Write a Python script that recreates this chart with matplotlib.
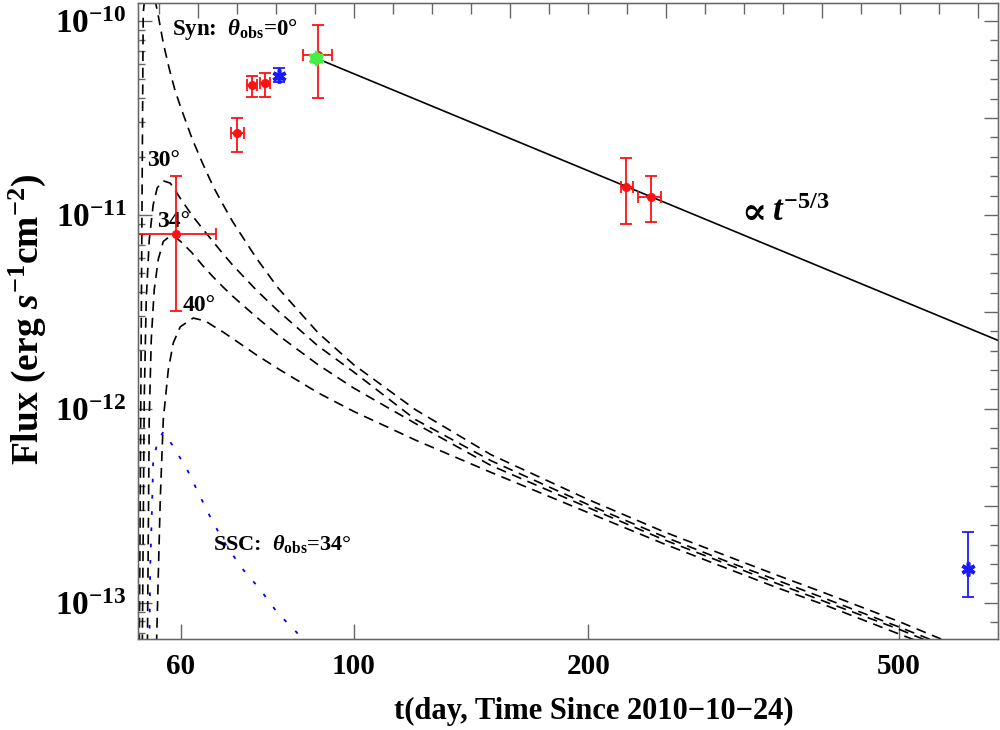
import numpy as np
import matplotlib
matplotlib.use('Agg')
import matplotlib.pyplot as plt
from matplotlib.ticker import FixedLocator, NullFormatter, FuncFormatter

plt.rcParams['font.family'] = ['Liberation Serif', 'DejaVu Serif']
plt.rcParams['font.weight'] = 'bold'
plt.rcParams['mathtext.fontset'] = 'custom'
plt.rcParams['mathtext.rm'] = 'Liberation Serif:bold'
plt.rcParams['mathtext.it'] = 'Liberation Serif:italic:bold'
plt.rcParams['mathtext.bf'] = 'Liberation Serif:bold'
plt.rcParams['mathtext.sf'] = 'Liberation Serif:bold'

# ---------------- data ----------------
red_t = [59.2, 70.9, 74.1, 77.0, 90.1, 223.6, 240.6]
red_F = [7.98e-12, 2.65e-11, 4.68e-11, 4.79e-11, 6.68e-11, 1.39e-11, 1.24e-11]
red_t_lo = [51.8, 69.7, 73.0, 75.9, 86.1, 220.3, 231.6]
red_t_hi = [66.6, 72.4, 75.2, 78.2, 93.8, 228.0, 247.8]
red_F_lo = [3.2e-12, 2.11e-11, 4.06e-11, 4.06e-11, 4.01e-11, 9.0e-12, 9.2e-12]
red_F_hi = [1.59e-11, 3.16e-11, 5.21e-11, 5.4e-11, 9.5e-11, 1.97e-11, 1.59e-11]

blue_t = [80.3, 613.6]
blue_F = [5.2e-11, 1.50e-13]
blue_F_lo = [4.85e-11, 1.07e-13]
blue_F_hi = [5.73e-11, 2.32e-13]

green_t = [89.5]
green_F = [6.44e-11]

pl_t = [89.5, 680.0]
pl_F = [6.44e-11, 2.2e-12]

syn0_t = [53.09, 53.42, 53.72, 54.52, 55.33, 55.99, 57.0, 58.0, 59.0, 60, 62, 64, 66, 68, 70,
          75, 80, 90, 100, 120, 150, 200, 250, 300, 350, 400, 500, 600, 700]
syn0_F = [5e-14, 3e-12, 1.1e-10, 2.0e-10, 1.4e-10, 1.14e-10, 7.7e-11, 5.7e-11, 4.4e-11, 3.6e-11,
          2.5e-11, 1.85e-11, 1.41e-11, 1.13e-11, 9.2e-12, 6.0e-12, 4.2e-12, 2.47e-12, 1.69e-12,
          9.9e-13, 5.8e-13, 3.4e-13, 2.32e-13, 1.75e-13, 1.38e-13, 1.13e-13, 8.0e-14, 5.9e-14, 4.5e-14]

syn30_t = [53.56, 53.88, 54.20, 54.68, 55.33, 55.99, 57.0, 58.19, 59.93, 62, 64, 66, 68, 70,
           75, 80, 90, 100, 120, 150, 200, 250, 300, 350, 400, 500, 600, 700]
syn30_F = [5e-14, 1.11e-12, 3.65e-12, 7.4e-12, 1.13e-11, 1.38e-11, 1.50e-11, 1.46e-11, 1.22e-11,
           1.0e-11, 8.5e-12, 7.3e-12, 6.3e-12, 5.5e-12, 4.1e-12, 3.2e-12, 2.11e-12, 1.55e-12,
           8.8e-13, 5.4e-13, 3.2e-13, 2.19e-13, 1.64e-13, 1.30e-13, 1.06e-13, 7.5e-14, 5.6e-14, 4.3e-14]

syn34_t = [54.37, 54.68, 55.01, 55.49, 56.16, 57.0, 58.19, 59.0, 60, 62, 64, 66, 68, 70,
           75, 80, 90, 100, 120, 150, 200, 250, 300, 350, 400, 500, 600, 700]
syn34_F = [5e-14, 8.8e-13, 2.27e-12, 4.1e-12, 5.9e-12, 7.3e-12, 7.8e-12, 7.7e-12, 7.3e-12,
           6.4e-12, 5.5e-12, 4.8e-12, 4.25e-12, 3.8e-12, 2.98e-12, 2.4e-12, 1.69e-12, 1.28e-12,
           8.4e-13, 5.1e-13, 3.09e-13, 2.11e-13, 1.59e-13, 1.25e-13, 1.02e-13, 7.3e-14, 5.4e-14, 4.1e-14]

syn40_t = [55.8, 56.49, 57.0, 57.85, 58.71, 59.93, 62.27, 64.52, 66, 68, 70,
           75, 80, 90, 100, 120, 150, 200, 250, 300, 350, 400, 500, 600, 700]
syn40_F = [5e-14, 3.4e-13, 8.8e-13, 1.59e-12, 2.19e-12, 2.65e-12, 2.94e-12, 2.84e-12, 2.68e-12,
           2.49e-12, 2.30e-12, 1.90e-12, 1.61e-12, 1.21e-12, 9.7e-13, 6.9e-13, 4.7e-13, 2.91e-13,
           2.01e-13, 1.51e-13, 1.19e-13, 9.8e-14, 6.9e-14, 5.2e-14, 4.0e-14]

ssc_t = [54.68, 54.84, 55.17, 55.33, 56.16, 57.0, 58.7, 61.17, 63.57, 66.06, 68.83, 72.16,
         75.88, 79.8, 84.6, 86.7]
ssc_F = [5e-14, 1.53e-13, 3.4e-13, 5.5e-13, 6.9e-13, 7.6e-13, 6.4e-13, 4.85e-13, 3.52e-13,
         2.58e-13, 1.94e-13, 1.48e-13, 1.17e-13, 8.9e-14, 7.0e-14, 5.7e-14]

x_ticks = [60, 100, 200, 500]
y_ticks = [1e-13, 1e-12, 1e-11, 1e-10]
x_lim = (52.9, 670.0)
y_lim = (6.5e-14, 1.24e-10)

# ---------------- figure ----------------
fig = plt.figure(figsize=(10, 7.3), dpi=100)
ax = fig.add_axes([0.138, 0.1247, 0.860, 0.8712])
ax.set_xscale('log')
ax.set_yscale('log')
ax.set_xlim(*x_lim)
ax.set_ylim(*y_lim)

dash_kw = dict(color='black', lw=1.2, dashes=(6, 4))
for tt, ff in [(syn0_t, syn0_F), (syn30_t, syn30_F), (syn34_t, syn34_F), (syn40_t, syn40_F)]:
    ax.plot(tt, ff, **dash_kw)
ax.plot(ssc_t, ssc_F, color='#0000ff', lw=1.3, dashes=(2, 7))
ax.plot(pl_t, pl_F, color='black', lw=1.2)

rt = np.array(red_t); rf = np.array(red_F)
xerr = [rt - np.array(red_t_lo), np.array(red_t_hi) - rt]
yerr = [rf - np.array(red_F_lo), np.array(red_F_hi) - rf]
ax.errorbar(rt, rf, xerr=xerr, yerr=yerr, fmt='o', color='#ff1010', ms=5.5,
            elinewidth=1.3, capsize=4, capthick=1.3, zorder=5)

bt = np.array(blue_t); bf = np.array(blue_F)
byerr = [bf - np.array(blue_F_lo), np.array(blue_F_hi) - bf]
ax.errorbar(bt, bf, yerr=byerr, fmt='none', ecolor='#1a1aff', elinewidth=1.3,
            capsize=4, capthick=1.3, zorder=6)
ax.plot(bt, bf, ls='none', marker=(6, 2, 0), ms=10, mew=2.6, color='#1a1aff', zorder=7)

ax.plot(green_t, green_F, ls='none', marker='o', ms=8, color='#44ee44', zorder=8)
ax.plot(green_t, green_F, ls='none', marker=(6, 2, 0), ms=11, mew=2.2, color='#44ee44', zorder=8)

# ---------------- ticks / frame ----------------
frame_col = '#666666'
for s in ax.spines.values():
    s.set_color(frame_col)
    s.set_linewidth(1.0)

ax.xaxis.set_major_locator(FixedLocator(x_ticks))
ax.xaxis.set_minor_locator(FixedLocator([]))
ax.xaxis.set_major_formatter(FuncFormatter(lambda v, p: '%d' % round(v)))
ax.yaxis.set_major_locator(FixedLocator(y_ticks))
minor_y = [m * 10.0 ** e for e in range(-14, -9) for m in range(2, 10)
           if y_lim[0] < m * 10.0 ** e < y_lim[1]]
ax.yaxis.set_minor_locator(FixedLocator(minor_y))
ax.yaxis.set_minor_formatter(NullFormatter())
ax.yaxis.set_major_formatter(FuncFormatter(lambda v, p: r'$10^{%d}$' % round(np.log10(v))))
ax.tick_params(axis='both', which='both', direction='in', color=frame_col,
               top=False, right=False)
ax.tick_params(axis='x', which='major', length=11, width=1.0, labelsize=21, pad=10)
ax.tick_params(axis='y', which='major', length=10, width=1.0, labelsize=24, pad=8)
ax.tick_params(axis='y', which='minor', length=5, width=1.0)

# top frame ticks (uniform in log t)
axt = ax.twiny()
axt.set_xlim(np.log10(x_lim[0]), np.log10(x_lim[1]))
axt.xaxis.set_major_locator(FixedLocator(np.arange(1.8, 2.85, 0.2)))
axt.xaxis.set_minor_locator(FixedLocator(np.arange(1.75, 2.85, 0.05)))
axt.tick_params(axis='x', which='both', direction='in', color=frame_col, labeltop=False,
                labelbottom=False, top=True, bottom=False)
axt.tick_params(axis='x', which='major', length=11, width=1.0)
axt.tick_params(axis='x', which='minor', length=8, width=1.0)

# right frame ticks (uniform in log F)
axr = ax.twinx()
axr.set_ylim(np.log10(y_lim[0]), np.log10(y_lim[1]))
axr.yaxis.set_major_locator(FixedLocator(np.arange(-13.0, -9.9, 0.5)))
axr.yaxis.set_minor_locator(FixedLocator(np.arange(-13.1, -9.9, 0.1)))
axr.tick_params(axis='y', which='both', direction='in', color=frame_col, labelright=False,
                labelleft=False, right=True, left=False)
axr.tick_params(axis='y', which='major', length=10, width=1.0)
axr.tick_params(axis='y', which='minor', length=6, width=1.0)
for a in (axt, axr):
    for s in a.spines.values():
        s.set_color(frame_col)

# ---------------- text ----------------
ax.text(0.0395, 0.958, r'Syn:  $\theta_{\mathrm{obs}}$=0°', transform=ax.transAxes,
        fontsize=16.5, ha='left', va='center')
ax.text(0.030, 0.753, '30°', transform=ax.transAxes, fontsize=17, ha='center', va='center')
ax.text(0.041, 0.6557, '34°', transform=ax.transAxes, fontsize=17, ha='center', va='center')
ax.text(0.0709, 0.5236, '40°', transform=ax.transAxes, fontsize=17, ha='center', va='center')
ax.text(0.1674, 0.1494, r'SSC:  $\theta_{\mathrm{obs}}$=34°', transform=ax.transAxes,
        fontsize=16, ha='center', va='center')
ax.text(0.7015, 0.667, '\u221d', transform=ax.transAxes, fontsize=27, ha='left', va='center',
        family=['DejaVu Serif'], weight='bold')
ax.text(0.7375, 0.670, r'$t^{-5/3}$', transform=ax.transAxes,
        fontsize=25, ha='left', va='center')

fig.text(0.027, 0.562, r'Flux (erg $s^{-1}$cm$^{-2}$)', rotation=90, fontsize=27,
         ha='center', va='center')
fig.text(0.594, 0.025, 't(day, Time Since 2010\u221210\u221224)', fontsize=22,
         ha='center', va='center')

fig.savefig('out.png', dpi=100)
